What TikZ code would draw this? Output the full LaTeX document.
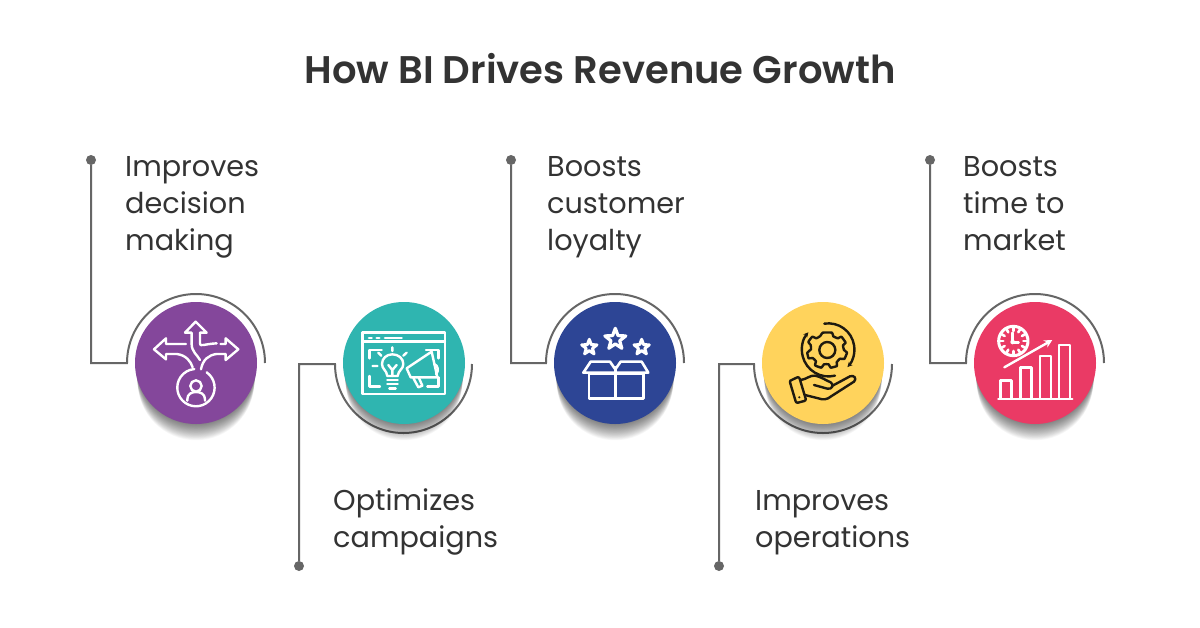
\documentclass[tikz,border=0pt]{standalone}
\usepackage{fontspec}
\setmainfont{Poppins}
\newfontfamily\titlefont{Poppins SemiBold}
\usetikzlibrary{arrows.meta}
\definecolor{cpurple}{HTML}{84479B}
\definecolor{cteal}{HTML}{2FB5B0}
\definecolor{cblue}{HTML}{2D4595}
\definecolor{cyellow}{HTML}{FFD35C}
\definecolor{cred}{HTML}{EA3A65}
\definecolor{cline}{HTML}{666666}
\definecolor{ctext}{HTML}{333333}
\definecolor{cicon}{HTML}{1E1A10}
\tikzset{
  wire/.style={draw=cline,line width=2pt},
  pin/.style={circle,fill=cline,inner sep=0pt,minimum size=10pt},
  disc/.style={circle,inner sep=0pt,minimum size=122pt},
  label/.style={anchor=base west,align=left,text=ctext,font=\fontsize{28.7}{37}\selectfont,inner sep=0pt},
  icon/.style={line width=2.4pt,line join=round,line cap=round,x=0.3333pt,y=-0.3333pt},
}
\newcommand{\softshadow}[2]{%
  \foreach \k in {0,...,19}{%
    \fill[black,opacity=0.03] (#1,#2+\k) circle ({60.5-\k*0.12});
  }}
\newcommand{\starpath}[3]{% cx cy r
  (#1+0,#2-#3)
  \foreach \a in {1,...,9}{
    -- ({#1+(#3)*(1-0.58*mod(\a,2))*sin(\a*36)},{#2-(#3)*(1-0.58*mod(\a,2))*cos(\a*36)})
  } -- cycle}
\begin{document}
\begin{tikzpicture}[x=1pt,y=-1pt]
\useasboundingbox[fill=white] (0,0) rectangle (1200,627);
\node[anchor=base,text=ctext,font=\fontsize{38.5}{44}\selectfont\titlefont,inner sep=0pt] (title) at (600,83) {How BI Drives Revenue Growth};

% --- wires
\node[pin] (p1) at (91,160) {};
\node[pin] (p2) at (299,566) {};
\node[pin] (p3) at (511,160) {};
\node[pin] (p4) at (719,566) {};
\node[pin] (p5) at (930,160) {};
\coordinate (e1) at (127,363);
\coordinate (e2) at (335,364);
\coordinate (e3) at (546,363);
\coordinate (e4) at (754,364);
\coordinate (e5) at (966,363);
\draw[wire] (p1) |- (e1) arc[start angle=180,end angle=360,radius=69];
\draw[wire] (p2) |- (e2) arc[start angle=180,end angle=0,x radius=68.5,y radius=69];
\draw[wire] (p3) |- (e3) arc[start angle=180,end angle=360,radius=69];
\draw[wire] (p4) |- (e4) arc[start angle=180,end angle=0,x radius=69,y radius=69];
\draw[wire] (p5) |- (e5) arc[start angle=180,end angle=360,radius=69];

% --- shadows and discs
\softshadow{196}{363}
\softshadow{404}{363}
\softshadow{615}{363}
\softshadow{823}{363}
\softshadow{1035}{363}
\node[disc,fill=cpurple] (c1) at (196,363) {};
\node[disc,fill=cteal] (c2) at (404,363) {};
\node[disc,fill=cblue] (c3) at (615,363) {};
\node[disc,fill=cyellow] (c4) at (823,363) {};
\node[disc,fill=cred] (c5) at (1035,363) {};

% --- labels
\node[label] (t1) at (125,250) {Improves\\decision\\making};
\node[label] (t2) at (333,547) {Optimizes\\campaigns};
\node[label] (t3) at (547,250) {Boosts\\customer\\loyalty};
\node[label] (t4) at (755,547) {Improves\\operations};
\node[label] (t5) at (963,250) {Boosts\\time to\\market};

% --- icon 1
\begin{scope}[shift={(80,280)},icon,draw=white]
\draw (335,192) -- (335,158) -- (315,158) -- (347,125) -- (380,158) -- (360,158) -- (360,192);
\draw (318,192) -- (258,192) -- (258,175) -- (222,208) -- (258,238) -- (258,222) -- (290,222) .. controls (318,225) and (333,245) .. (338,262);
\draw (360,192) .. controls (360,200) and (375,192) .. (410,190);
\draw (422,192) -- (437,192) -- (437,175) -- (475,208) -- (437,240) -- (437,222) -- (410,222) .. controls (385,225) and (368,240) .. (363,268);
\draw (335,192) .. controls (335,215) and (352,225) .. (360,240);
\draw (380,277) arc[start angle=-55,end angle=265,radius=56];
\draw (348,318) circle[radius=17];
\draw (322,362) -- (322,358) .. controls (322,342) and (335,336) .. (348,336) .. controls (362,336) and (375,342) .. (375,358) -- (375,362);
\end{scope}

% --- icon 2
\begin{scope}[shift={(290,290)},icon,draw=white]
\draw (218,127) rectangle (465,312);
\draw (218,155) -- (465,155);
\draw[line width=2.6pt] (237,144) -- (245,144) (260,144) -- (268,144) (285,144) -- (335,144);
\draw (238,205) -- (238,180) -- (275,180);
\draw (408,180) -- (445,180) -- (445,205);
\draw (238,258) -- (238,290) -- (270,290);
\draw (445,262) -- (445,290) -- (412,290);
\draw (292,258) .. controls (290,240) and (276,238) .. (276,222) .. controls (276,205) and (290,193) .. (307,193) .. controls (325,193) and (340,205) .. (340,222) .. controls (340,238) and (325,240) .. (323,258) -- cycle;
\draw (307,258) -- (307,240) (295,225) -- (307,240) -- (320,225);
\draw (292,270) -- (323,270) (292,282) -- (323,282) (298,295) -- (317,295);
\draw (307,172) -- (307,183) (265,188) -- (274,197) (350,188) -- (340,197) (248,228) -- (262,228);
\draw (350,235) -- (425,185) -- (442,262) -- (362,262) -- cycle;
\draw (370,264) -- (385,292) -- (397,287) -- (386,262);
\draw (432,222) .. controls (445,225) and (447,245) .. (438,252);
\end{scope}

% --- icon 3
\begin{scope}[shift={(500,280)},icon,draw=white]
\draw[line width=3.2pt] \starpath{346}{178}{33};
\draw[line width=3pt] \starpath{268}{202}{24};
\draw[line width=3pt] \starpath{425}{202}{24};
\draw[line width=2.6pt] (267,280) rectangle (430,356);
\draw[line width=2.6pt] (346,262) -- (346,356);
\draw[line width=2.6pt] (250,278) -- (272,245) -- (330,245) -- (346,268) -- (362,245) -- (425,245) -- (445,278) -- cycle;
\end{scope}

% --- icon 4
\begin{scope}[shift={(710,290)},icon,draw=cicon]
\draw (352,180) circle[radius=24];
\draw plot[smooth cycle,tension=0.25] coordinates {
(338,128)(366,128)(370,139)(384,145)(394,140)(407,158)(399,166)(402,180)(411,188)(403,207)(390,206)(380,217)(381,228)(362,233)(356,223)(342,223)(334,233)(315,226)(318,214)(308,204)(296,205)(292,188)(303,178)(302,165)(295,156)(307,140)(319,145)(331,138)};
\draw[-{Stealth[length=5pt,width=5pt]}] (343,101) arc[start angle=-99,end angle=43,radius=78];
\draw[-{Stealth[length=5pt,width=5pt]}] (375,257) arc[start angle=76,end angle=221,radius=80];
\draw (241,272) -- (262,262) .. controls (266,261) and (268,263) .. (269,266) -- (287,326) .. controls (288,330) and (286,332) .. (283,333) -- (264,338) .. controls (260,339) and (258,337) .. (257,334) -- (240,277) .. controls (239,274) and (239,273) .. (241,272) -- cycle;
\draw (272,270) .. controls (290,268) and (300,255) .. (315,257) .. controls (330,259) and (350,272) .. (362,277) .. controls (372,282) and (368,300) .. (352,296) -- (312,285);
\draw (366,288) -- (420,259) .. controls (432,254) and (442,266) .. (432,275) -- (365,318) .. controls (350,330) and (340,330) .. (325,325) -- (285,315);
\fill[cicon] (268,322) circle[radius=3.5];
\end{scope}

% --- icon 5
\begin{scope}[shift={(920,280)},icon,draw=white]
\draw[line width=3pt] (280,183) circle[radius=44];
\foreach \a in {0,30,...,330}
  \draw[line width=2.6pt] ({280+30*cos(\a)},{183+30*sin(\a)}) -- ({280+40*cos(\a)},{183+40*sin(\a)});
\draw[line width=2.4pt] (278,158) -- (278,188) -- (296,188);
\fill[white] (278,186) circle[radius=7];
\draw[-{Stealth[length=8pt,width=8pt]},line width=2.4pt] (253,262) -- (397,180);
\draw (242,302) rectangle (275,357);
\draw (302,263) rectangle (335,357);
\draw (360,228) rectangle (393,357);
\draw (417,195) rectangle (450,357);
\draw (235,357) -- (457,357);
\end{scope}
\end{tikzpicture}
\end{document}
